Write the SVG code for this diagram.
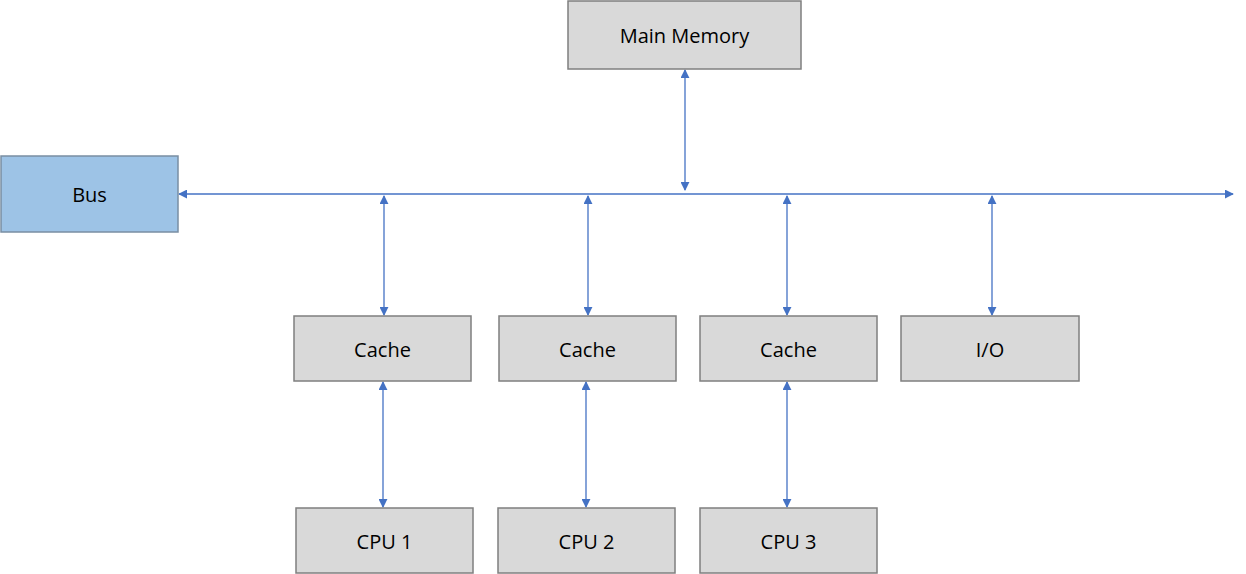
<svg xmlns="http://www.w3.org/2000/svg" width="1246" height="574" viewBox="0 0 1246 574">
<style>
.n{fill:#d9d9d9;stroke:#7f7f7f;stroke-width:1.5}
.b{fill:#9dc3e6;stroke:#7a8ea3;stroke-width:1.5}
text{font-family:"Open Sans","Liberation Sans",sans-serif;font-size:20px;fill:#000;text-anchor:middle;dominant-baseline:central}
.c line{stroke:#4472c4;stroke-width:1.3;marker-start:url(#a);marker-end:url(#a)}
</style>
<defs><marker id="a" viewBox="0 0 10 10" refX="9" refY="5" markerWidth="9" markerHeight="9" markerUnits="userSpaceOnUse" orient="auto-start-reverse"><path d="M0,0L10,5L0,10z" fill="#4472c4"/></marker></defs>
<g class="c">
<line x1="179" y1="194" x2="1233" y2="194"/>
<line x1="685" y1="70" x2="685" y2="190"/>
<line x1="384" y1="196" x2="384" y2="315"/>
<line x1="588" y1="196" x2="588" y2="315"/>
<line x1="787" y1="196" x2="787" y2="315"/>
<line x1="992" y1="196" x2="992" y2="315"/>
<line x1="383" y1="382" x2="383" y2="507"/>
<line x1="586" y1="382" x2="586" y2="507"/>
<line x1="787" y1="382" x2="787" y2="507"/>
</g>
<g id="mem"><rect class="n" x="568" y="1" width="233" height="68"/><text x="684.5" y="35">Main Memory</text></g>
<g id="bus"><rect class="b" x="1" y="156" width="177" height="76"/><text x="89.5" y="194">Bus</text></g>
<g id="cache1"><rect class="n" x="294" y="316" width="177" height="65"/><text x="382.5" y="349">Cache</text></g>
<g id="cache2"><rect class="n" x="499" y="316" width="177" height="65"/><text x="587.5" y="349">Cache</text></g>
<g id="cache3"><rect class="n" x="700" y="316" width="177" height="65"/><text x="788.5" y="349">Cache</text></g>
<g id="io"><rect class="n" x="901" y="316" width="178" height="65"/><text x="990" y="349">I/O</text></g>
<g id="cpu1"><rect class="n" x="296" y="508" width="177" height="65"/><text x="384.5" y="541">CPU 1</text></g>
<g id="cpu2"><rect class="n" x="498" y="508" width="177" height="65"/><text x="586.5" y="541">CPU 2</text></g>
<g id="cpu3"><rect class="n" x="700" y="508" width="177" height="65"/><text x="788.5" y="541">CPU 3</text></g>
</svg>
